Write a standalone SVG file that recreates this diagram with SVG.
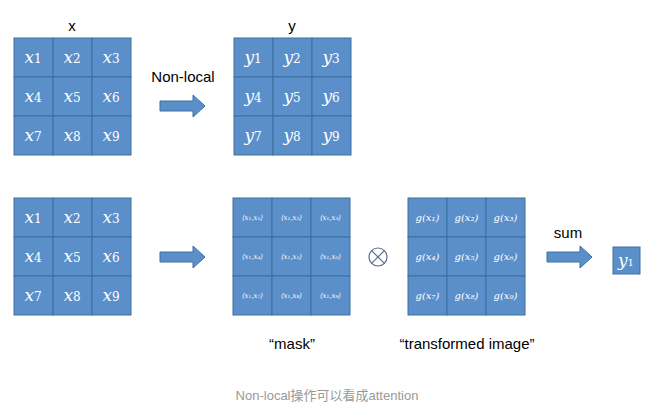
<svg xmlns="http://www.w3.org/2000/svg" width="669" height="414" viewBox="0 0 669 414">
<defs><style>
.c{fill:#5b8fca;stroke:#3e6e9e;stroke-width:1}
.m{font-family:"DejaVu Serif",serif;font-style:italic;fill:#fff;font-size:17px;text-anchor:middle}
.s{font-family:"DejaVu Serif",serif;font-style:italic;fill:#fff;font-size:7px;text-anchor:middle}
.g{font-family:"DejaVu Serif",serif;font-style:italic;fill:#fff;font-size:10px;text-anchor:middle}
.l{font-family:"Liberation Sans",Arial,sans-serif;fill:#000;font-size:15px;text-anchor:middle}
.ar{fill:#5b8fca;stroke:#3e6e9e;stroke-width:1}
</style></defs>
<rect width="669" height="414" fill="#fff"/>
<g id="gridX">
<text class="l" x="72" y="31">x</text>
<rect class="c" x="14" y="38" width="39" height="39"/><rect class="c" x="53" y="38" width="39" height="39"/><rect class="c" x="92" y="38" width="39" height="39"/>
<rect class="c" x="14" y="77" width="39" height="39"/><rect class="c" x="53" y="77" width="39" height="39"/><rect class="c" x="92" y="77" width="39" height="39"/>
<rect class="c" x="14" y="116" width="39" height="39"/><rect class="c" x="53" y="116" width="39" height="39"/><rect class="c" x="92" y="116" width="39" height="39"/>
<text class="m" x="33" y="63">x<tspan font-size="12" font-style="normal">1</tspan></text><text class="m" x="72" y="63">x<tspan font-size="12" font-style="normal">2</tspan></text><text class="m" x="111" y="63">x<tspan font-size="12" font-style="normal">3</tspan></text>
<text class="m" x="33" y="102">x<tspan font-size="12" font-style="normal">4</tspan></text><text class="m" x="72" y="102">x<tspan font-size="12" font-style="normal">5</tspan></text><text class="m" x="111" y="102">x<tspan font-size="12" font-style="normal">6</tspan></text>
<text class="m" x="33" y="141">x<tspan font-size="12" font-style="normal">7</tspan></text><text class="m" x="72" y="141">x<tspan font-size="12" font-style="normal">8</tspan></text><text class="m" x="111" y="141">x<tspan font-size="12" font-style="normal">9</tspan></text>
</g>
<g id="gridY">
<text class="l" x="292" y="31">y</text>
<rect class="c" x="234" y="38" width="39" height="39"/><rect class="c" x="273" y="38" width="39" height="39"/><rect class="c" x="312" y="38" width="39" height="39"/>
<rect class="c" x="234" y="77" width="39" height="39"/><rect class="c" x="273" y="77" width="39" height="39"/><rect class="c" x="312" y="77" width="39" height="39"/>
<rect class="c" x="234" y="116" width="39" height="39"/><rect class="c" x="273" y="116" width="39" height="39"/><rect class="c" x="312" y="116" width="39" height="39"/>
<text class="m" x="253" y="63">y<tspan font-size="12" font-style="normal">1</tspan></text><text class="m" x="292" y="63">y<tspan font-size="12" font-style="normal">2</tspan></text><text class="m" x="331" y="63">y<tspan font-size="12" font-style="normal">3</tspan></text>
<text class="m" x="253" y="102">y<tspan font-size="12" font-style="normal">4</tspan></text><text class="m" x="292" y="102">y<tspan font-size="12" font-style="normal">5</tspan></text><text class="m" x="331" y="102">y<tspan font-size="12" font-style="normal">6</tspan></text>
<text class="m" x="253" y="141">y<tspan font-size="12" font-style="normal">7</tspan></text><text class="m" x="292" y="141">y<tspan font-size="12" font-style="normal">8</tspan></text><text class="m" x="331" y="141">y<tspan font-size="12" font-style="normal">9</tspan></text>
</g>
<g id="gridX2">
<rect class="c" x="14" y="198" width="39" height="39"/><rect class="c" x="53" y="198" width="39" height="39"/><rect class="c" x="92" y="198" width="39" height="39"/>
<rect class="c" x="14" y="237" width="39" height="39"/><rect class="c" x="53" y="237" width="39" height="39"/><rect class="c" x="92" y="237" width="39" height="39"/>
<rect class="c" x="14" y="276" width="39" height="39"/><rect class="c" x="53" y="276" width="39" height="39"/><rect class="c" x="92" y="276" width="39" height="39"/>
<text class="m" x="33" y="223">x<tspan font-size="12" font-style="normal">1</tspan></text><text class="m" x="72" y="223">x<tspan font-size="12" font-style="normal">2</tspan></text><text class="m" x="111" y="223">x<tspan font-size="12" font-style="normal">3</tspan></text>
<text class="m" x="33" y="262">x<tspan font-size="12" font-style="normal">4</tspan></text><text class="m" x="72" y="262">x<tspan font-size="12" font-style="normal">5</tspan></text><text class="m" x="111" y="262">x<tspan font-size="12" font-style="normal">6</tspan></text>
<text class="m" x="33" y="301">x<tspan font-size="12" font-style="normal">7</tspan></text><text class="m" x="72" y="301">x<tspan font-size="12" font-style="normal">8</tspan></text><text class="m" x="111" y="301">x<tspan font-size="12" font-style="normal">9</tspan></text>
</g>
<g id="mask">
<rect class="c" x="233" y="198" width="39" height="39"/><rect class="c" x="272" y="198" width="39" height="39"/><rect class="c" x="311" y="198" width="39" height="39"/>
<rect class="c" x="233" y="237" width="39" height="39"/><rect class="c" x="272" y="237" width="39" height="39"/><rect class="c" x="311" y="237" width="39" height="39"/>
<rect class="c" x="233" y="276" width="39" height="39"/><rect class="c" x="272" y="276" width="39" height="39"/><rect class="c" x="311" y="276" width="39" height="39"/>
<text class="s" x="252.5" y="220">⟨x₁,x₁⟩</text><text class="s" x="291.5" y="220">⟨x₁,x₂⟩</text><text class="s" x="330.5" y="220">⟨x₁,x₃⟩</text>
<text class="s" x="252.5" y="259">⟨x₁,x₄⟩</text><text class="s" x="291.5" y="259">⟨x₁,x₅⟩</text><text class="s" x="330.5" y="259">⟨x₁,x₆⟩</text>
<text class="s" x="252.5" y="298">⟨x₁,x₇⟩</text><text class="s" x="291.5" y="298">⟨x₁,x₈⟩</text><text class="s" x="330.5" y="298">⟨x₁,x₉⟩</text>
<text class="l" x="292" y="349">“mask”</text>
</g>
<g id="otimes" fill="none" stroke="#5a6e8c" stroke-width="1.2">
<circle cx="378" cy="257" r="9"/><path d="M371.6 250.6L384.4 263.4M384.4 250.6L371.6 263.4"/>
</g>
<g id="gimg">
<rect class="c" x="408" y="198" width="39" height="39"/><rect class="c" x="447" y="198" width="39" height="39"/><rect class="c" x="486" y="198" width="39" height="39"/>
<rect class="c" x="408" y="237" width="39" height="39"/><rect class="c" x="447" y="237" width="39" height="39"/><rect class="c" x="486" y="237" width="39" height="39"/>
<rect class="c" x="408" y="276" width="39" height="39"/><rect class="c" x="447" y="276" width="39" height="39"/><rect class="c" x="486" y="276" width="39" height="39"/>
<text class="g" x="427.5" y="221">g(x₁)</text><text class="g" x="466.5" y="221">g(x₂)</text><text class="g" x="505.5" y="221">g(x₃)</text>
<text class="g" x="427.5" y="260">g(x₄)</text><text class="g" x="466.5" y="260">g(x₅)</text><text class="g" x="505.5" y="260">g(x₆)</text>
<text class="g" x="427.5" y="299">g(x₇)</text><text class="g" x="466.5" y="299">g(x₈)</text><text class="g" x="505.5" y="299">g(x₉)</text>
<text class="l" x="467" y="349">“transformed image”</text>
</g>
<g id="y1">
<rect class="c" x="613" y="247" width="27" height="27"/>
<text class="m" x="626" y="266" font-size="15">y<tspan font-size="10" font-style="normal">1</tspan></text>
</g>
<g id="connectors">
<text class="l" x="183" y="82">Non-local</text>
<path class="ar" d="M160 101H193V95L205 106L193 117V111H160Z"/>
<path class="ar" d="M160 252H193V246L205 257L193 268V262H160Z"/>
<text class="l" x="568" y="238">sum</text>
<path class="ar" d="M547 252H580V246L592 257L580 268V262H547Z"/>
</g>
<text x="327" y="400" font-family="'Liberation Sans','Noto Sans CJK SC',sans-serif" font-size="13" fill="#999" text-anchor="middle">Non-local操作可以看成attention</text>
</svg>
